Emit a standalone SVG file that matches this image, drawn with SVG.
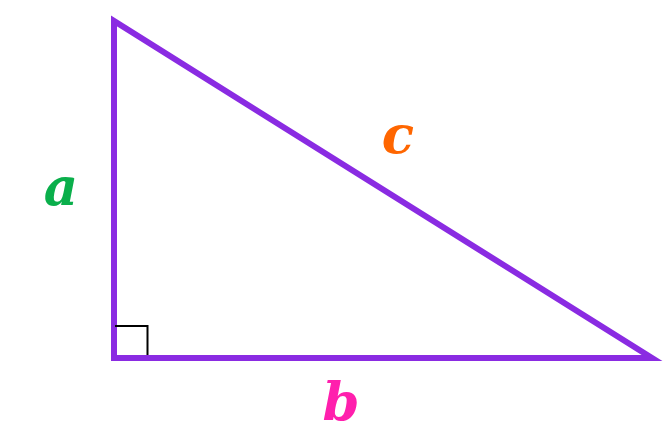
<svg xmlns="http://www.w3.org/2000/svg" width="667" height="448" viewBox="0 0 667 448">
<style>
.lbl{font-family:"DejaVu Serif",serif;font-weight:bold;font-style:italic;font-size:53px;text-anchor:middle}
</style>
<rect width="667" height="448" fill="#ffffff"/>
<g id="triangle">
<polygon points="114,21 114,358 652,358" fill="none" stroke="#8a2be2" stroke-width="6" stroke-linejoin="miter" stroke-miterlimit="10"/>
<polyline points="115,326 147.5,326 147.5,355" fill="none" stroke="#000000" stroke-width="2"/>
</g>
<g id="label-a"><text class="lbl" x="61" y="205" fill="#0aaf4b">a</text></g>
<g id="label-c"><text class="lbl" x="398" y="153" fill="#ff6600">c</text></g>
<g id="label-b"><text class="lbl" x="341" y="420" fill="#ff1fad">b</text></g>
</svg>
